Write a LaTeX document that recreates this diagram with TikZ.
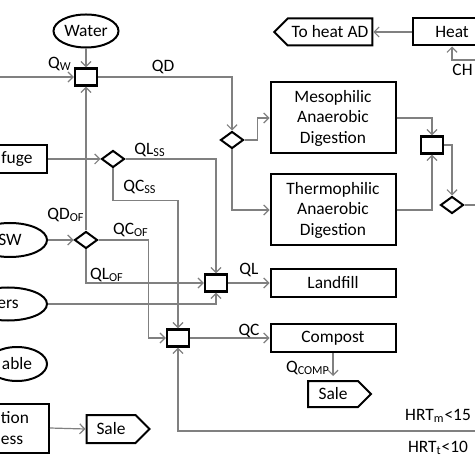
\documentclass[tikz,border=0pt]{standalone}
\usepackage{fontspec}
\setmainfont{Carlito}
\usetikzlibrary{shapes.geometric,shapes.symbols,arrows.meta}

\begin{document}
\begin{tikzpicture}[x=0.5pt,y=-0.5pt,
    font=\fontsize{8.7}{10.25}\selectfont,
    procbox/.style={draw, line width=1pt, minimum width=62.5pt, minimum height=14pt, inner sep=1pt, align=center},
    mixer/.style={draw, line width=1.2pt, minimum width=11pt, minimum height=8.5pt, inner sep=0pt},
    splitter/.style={draw, diamond, line width=1pt, minimum width=11.5pt, minimum height=8.5pt, inner sep=0pt},
    feed/.style={draw, ellipse, line width=1pt, minimum height=16.5pt, inner sep=0pt},
    product/.style={draw, signal, line width=1pt, minimum height=14pt, inner sep=1pt},
    stream/.style={draw=black!50, line width=0.6pt, -{Straight Barb[length=2.5pt,width=5pt]}},
    tag/.style={inner sep=0pt}]
    \useasboundingbox (0,0) rectangle (474,474);
%
    \node [feed, minimum width=32.5pt] (water) at (86,31) {Water};
    \node [mixer] (mixW) at (86,77) {};
    \coordinate (inW) at (-10,77);
    \node [splitter] (splitD) at (232,140) {};
    \node [procbox, minimum height=35.5pt] (meso) at (333,118) {Mesophilic\\Anaerobic\\Digestion};
    \node [procbox, minimum height=35.5pt] (thermo) at (333,210) {Thermophilic\\Anaerobic\\Digestion};
    \node [mixer] (mixAD) at (432,145) {};
    \node [splitter] (splitAD) at (452,205) {};
    \coordinate (outAD) at (490,205);
    \node [procbox, minimum width=39pt, minimum height=13.5pt] (heat) at (452,32) {Heat};
    \node [product, signal to=west, minimum width=49pt, minimum height=13.5pt] (toheat) at (330,32) {To heat AD};
    \coordinate (chIn) at (490,60);
    \node [tag, anchor=east] (ch) at (473,70) {CH};
%
    \node [procbox, minimum width=30pt] (fuge) at (17,159) {fuge};
    \node [splitter] (splitSS) at (113,159) {};
    \node [feed, minimum width=37pt, minimum height=17pt] (sw) at (10,240) {SW};
    \node [splitter] (splitOF) at (86,240) {};
    \node [feed, minimum width=39pt] (ers) at (8,304) {ers};
    \node [feed, minimum width=30pt, minimum height=17pt] (able) at (17,364) {able};
    \node [procbox, minimum width=0pt, text width=23pt, minimum height=24.5pt, align=left] (proc) at (24,428) {tion\\ess};
    \node [product, signal to=east, minimum width=31.5pt] (sale1) at (111,429) {Sale};
%
    \node [mixer] (mixL) at (216,283) {};
    \node [mixer] (mixC) at (178,338) {};
    \node [procbox] (landfill) at (333,283) {Landfill};
    \node [procbox] (compost) at (333,338) {Compost};
    \node [product, signal to=east, minimum width=31.5pt, minimum height=13pt] (sale2) at (333,394) {Sale};
    \coordinate (hrtIn) at (490,431);
%
    \draw [stream] (water) -- (mixW);
    \draw [stream] (inW) -- (mixW);
    \draw [stream] (mixW) -| (splitD);
    \draw [stream] (splitD.east) -- ++(13,0) |- (meso.west);
    \draw [stream] (splitD.south) |- (thermo.west);
    \draw [stream] (meso.east) -| (mixAD.north);
    \draw [stream] (thermo.east) -| (mixAD.south);
    \draw [stream] (mixAD.east) -| (splitAD.north);
    \draw [draw=black!50, line width=0.6pt] (splitAD.east) -- (outAD);
    \draw [stream] (heat.west) -- (toheat.east);
    \draw [stream] (chIn) -| (heat.south);
%
    \draw [stream] (fuge.east) -- (splitSS.west);
    \draw [stream] (splitSS.east) -| (mixL.north);
    \draw [stream] (splitSS.south) -- ++(0,32) -| (mixC.north);
    \draw [stream] (sw.east) -- (splitOF.west);
    \draw [stream] (splitOF.north) -- (mixW.south);
    \draw [stream] (splitOF.east) -- ++(50,0) |- (mixC.west);
    \draw [stream] (splitOF.south) |- (mixL.west);
    \draw [stream] (ers.east) -| (mixL.south);
    \draw [stream] (mixL.east) -- (landfill.west);
    \draw [stream] (mixC.east) -- (compost.west);
    \draw [stream, shorten >=2pt] (compost.south) -- (compost.south |- sale2.north);
    \draw [stream] (hrtIn) -| (mixC.south);
    \draw [stream] (proc.east) -- (sale1.west);
%
    \node [tag] at (60,64) {Q\textsubscript{W}};
    \node [tag] at (163,67) {QD};
    \node [tag] at (150,150) {QL\textsubscript{SS}};
    \node [tag] at (140,187) {QC\textsubscript{SS}};
    \node [tag] at (66,215) {QD\textsubscript{OF}};
    \node [tag] at (131,230) {QC\textsubscript{OF}};
    \node [tag] at (107,275) {QL\textsubscript{OF}};
    \node [tag] at (249,270) {QL};
    \node [tag] at (249,331) {QC};
    \node [tag] at (308,368) {Q\textsubscript{COMP}};
    \node [tag] at (438,416) {HRT\textsubscript{m}<15};
    \node [tag] at (438,448) {HRT\textsubscript{t}<10};
\end{tikzpicture}
\end{document}
